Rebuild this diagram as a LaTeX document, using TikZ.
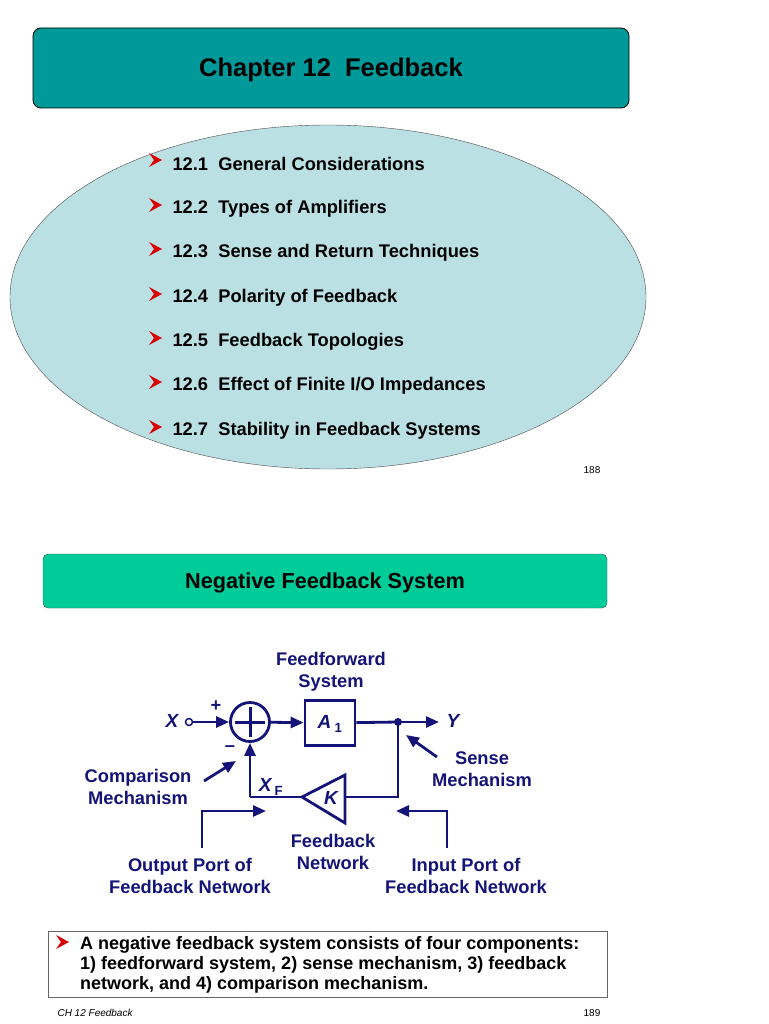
\documentclass[tikz,border=0pt]{standalone}
\usepackage{fontspec}
\setmainfont{Liberation Sans}
\usetikzlibrary{arrows.meta,shapes.geometric}
\definecolor{navy}{RGB}{20,20,120}
\definecolor{teal1}{RGB}{0,153,153}
\definecolor{green1}{RGB}{0,204,153}
\definecolor{ellfill}{RGB}{187,224,228}
\begin{document}
\begin{tikzpicture}[x=1pt,y=-1pt,
  bl/.style={font=\fontsize{18.3}{20}\selectfont\bfseries,anchor=west},
  dg/.style={font=\fontsize{18.3}{22}\selectfont\bfseries,text=navy,align=center},
  dgi/.style={dg,font=\fontsize{19}{22}\selectfont\bfseries\itshape},
  ln/.style={navy,line width=2.8pt},
  ar/.style={ln,-{Triangle[length=13pt,width=11pt]}}]
\useasboundingbox (0,0) rectangle (768,1024);
\fill[white] (0,0) rectangle (768,1024);
\newcommand{\bul}[2]{\fill[red!85!black] (#1-6,#2-7) -- (#1+7,#2) -- (#1-6,#2+7) -- (#1-1,#2) -- cycle;}
% title
\node[draw=black,fill=teal1,rounded corners=8pt,minimum width=596pt,minimum height=80pt,line width=0.8pt] (title) at (331,68) {};
\node[font=\fontsize{25.5}{28}\selectfont\bfseries] (tt) at (331,70) {Chapter 12\ \ Feedback};
% ellipse
\node[draw=black!70,fill=ellfill,ellipse,minimum width=636pt,minimum height=344pt] (ell) at (328,297) {};
\foreach \y/\t [count=\i] in {163/{12.1\ \ General Considerations},208/{12.2\ \ Types of Amplifiers},252/{12.3\ \ Sense and Return Techniques},297/{12.4\ \ Polarity of Feedback},341/{12.5\ \ Feedback Topologies},385/{12.6\ \ Effect of Finite I/O Impedances},430/{12.7\ \ Stability in Feedback Systems}}{
  \bul{155}{\y-3}
  \node[bl] (b\i) at (169,\y+1) {\t};
}
\node[font=\fontsize{10}{12}\selectfont] (p188) at (592,470) {188};
% second slide
\node[draw=black!70,fill=green1,rounded corners=5pt,minimum width=564pt,minimum height=54pt] (nbox) at (325,581) {};
\node[font=\fontsize{21.7}{24}\selectfont\bfseries] (nt) at (325,583) {Negative Feedback System};
% diagram
\node[dg] (ff) at (331,672) {Feedforward\\System};
\node[dgi] (X) at (172,721) {X};
\node[circle,draw=navy,line width=1.5pt,inner sep=0pt,minimum size=7pt] (xin) at (189,722) {};
\node[circle,draw=navy,line width=2.8pt,minimum size=39pt,inner sep=0pt] (sum) at (250,722) {};
\draw[navy,line width=3pt] (235,722) -- (265,722) (250,707) -- (250,737);
\node[dg] (plus) at (216,706) {+};
\node[dg] (minus) at (230,749) {--};
\node[draw=navy,line width=2.8pt,minimum width=50pt,minimum height=45pt] (A) at (330,723) {};
\node[dgi] (At) at (330,724) {A\,\textsubscript{\upshape 1}};
\fill[navy] (398,722) circle (4pt);
\coordinate (dot) at (398,722);
\coordinate (yend) at (439,722);
\node[dgi] (Y) at (453,721) {Y};
\draw[ar] (xin) -- (sum);
\draw[ar] (sum) -- (A);
\draw[ln] (A) -- (dot);
\draw[ar] (dot) -- (yend);
% feedback triangle
\coordinate (tl) at (302,797);
\coordinate (tr) at (345,797);
\draw[ln,line join=miter] (302,797) -- (345,775) -- (345,823) -- cycle;
\node[dgi] (K) at (331,798) {K};
\coordinate (c1) at (398,797);
\coordinate (c2) at (250,797);
\draw[ln] (dot) -- (c1) -- (tr);
\draw[ln] (tl) -- (c2);
\draw[ar] (c2) -- (sum);
\node[dgi] (XF) at (271,787) {X\,\textsubscript{\upshape F}};
% labels with arrows
\node[dg] (cm) at (138,787) {Comparison\\Mechanism};
\coordinate (cma) at (204,781); \coordinate (cmb) at (236,761);
\draw[ar] (cma) -- (cmb);
\node[dg] (sm) at (482,769) {Sense\\Mechanism};
\coordinate (sma) at (437,757); \coordinate (smb) at (406,735);
\draw[ar] (sma) -- (smb);
\node[dg] (fn) at (333,852) {Feedback\\Network};
\coordinate (o1) at (202,848); \coordinate (o2) at (202,811); \coordinate (o3) at (266,811);
\draw[ar] (o1) -- (o2) -- (o3);
\node[dg] (op) at (190,876) {Output Port of\\Feedback Network};
\coordinate (i1) at (447,848); \coordinate (i2) at (447,811); \coordinate (i3) at (396,811);
\draw[ar] (i1) -- (i2) -- (i3);
\node[dg] (ip) at (466,876) {Input Port of\\Feedback Network};
% bottom box
\node[draw=black!60,minimum width=559pt,minimum height=66pt] (bb) at (327.5,964) {};
\bul{62}{942}
\node[font=\fontsize{18}{20}\selectfont\bfseries,anchor=north west,align=left,inner sep=0pt] (bt) at (80,936) {A negative feedback system consists of four components:\\1) feedforward system, 2) sense mechanism, 3) feedback\\network, and 4) comparison mechanism.};
\node[font=\fontsize{10}{12}\selectfont\itshape,anchor=west] (ch) at (54,1013) {CH 12 Feedback};
\node[font=\fontsize{10}{12}\selectfont] (p189) at (592,1013) {189};
\end{tikzpicture}
\end{document}
